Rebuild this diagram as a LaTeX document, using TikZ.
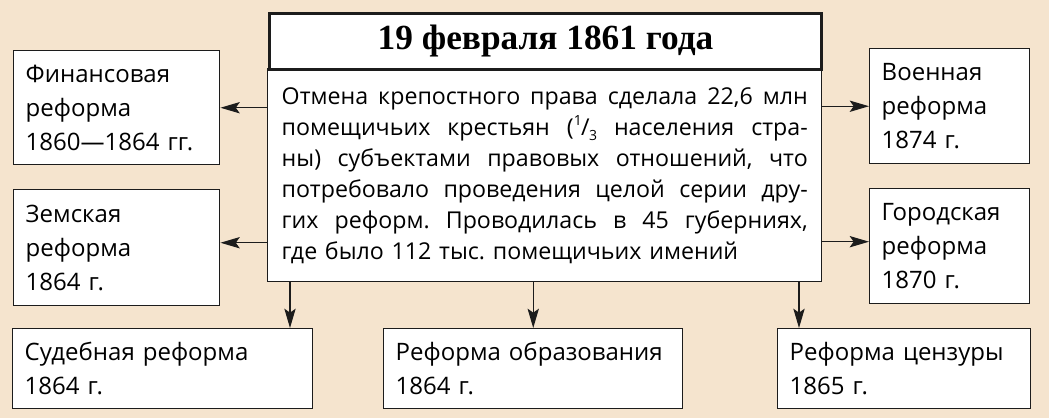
\documentclass[tikz,border=0pt]{standalone}
\usepackage{fontspec}
\setmainfont{Open Sans}
\newfontfamily\titlefont{Liberation Serif}
\usetikzlibrary{arrows.meta}
\definecolor{bg}{RGB}{245,228,206}
\definecolor{ink}{RGB}{28,28,28}
\newcommand{\jl}[1]{\makebox[394.5pt][s]{\spaceskip=0.26em plus 2em\relax #1}}
\begin{document}
\begin{tikzpicture}[x=0.75pt,y=-0.75pt,
  box/.style={draw=ink, line width=1.1pt, fill=white, anchor=north west, align=left,
    inner xsep=9pt, inner ysep=0pt, font=\fontsize{18}{25.5}\selectfont},
  arr/.style={draw=ink, line width=0.9pt, -{Stealth[length=14.5pt,width=8.5pt,inset=3pt]}}]
\fill[bg] (0,0) rectangle (1049,418);
\useasboundingbox (0,0) rectangle (1049,418);

\node[box, minimum width=415.5pt, minimum height=159.75pt, text width=394.5pt,
  inner xsep=10pt, font=\fontsize{17.4}{23.25}\selectfont\frenchspacing] (body) at (267,68)
  {\jl{Отмена крепостного права сделала 22,6 млн}\\
   \jl{помещичьих крестьян (\raisebox{0.75ex}{\fontsize{10.5}{10}\selectfont 1}\kern-0.5pt/\kern-0.5pt\raisebox{-0.45ex}{\fontsize{10.5}{10}\selectfont 3} населения стра-}\\
   \jl{ны) субъектами правовых отношений, что}\\
   \jl{потребовало проведения целой серии дру-}\\
   \jl{гих реформ. Проводилась в 45 губерниях,}\\
   где было 112 тыс. помещичьих имений};

\node[draw=ink, line width=2.2pt, fill=white, anchor=north west, minimum width=414pt,
  minimum height=42pt, inner sep=0pt,
  font=\titlefont\bfseries\fontsize{26.5}{30}\selectfont] (title) at (268,12) {19 февраля 1861 года};

\node[box, minimum width=154.5pt, minimum height=85.5pt, text width=136.5pt] (fin) at (13,50)
  {Финансовая\\реформа\\1860—1864 гг.};
\node[box, minimum width=154.5pt, minimum height=87pt, text width=136.5pt] (zem) at (13,189)
  {Земская\\реформа\\1864 г.};
\node[box, minimum width=120pt, minimum height=86.25pt, text width=102pt] (voen) at (869,48)
  {Военная\\реформа\\1874 г.};
\node[box, minimum width=120pt, minimum height=86.25pt, text width=102pt] (gor) at (869,188)
  {Городская\\реформа\\1870 г.};
\node[box, minimum width=225pt, minimum height=60pt, text width=207pt] (sud) at (12,328)
  {Судебная реформа\\1864 г.};
\node[box, minimum width=224.25pt, minimum height=60pt, text width=206.25pt] (obr) at (383,328)
  {Реформа образования\\1864 г.};
\node[box, minimum width=189.75pt, minimum height=60pt, text width=171.75pt] (cenz) at (777,328)
  {Реформа цензуры\\1865 г.};

\draw[arr] (body.west |- fin.east) -- (fin.east);
\draw[arr, transform canvas={yshift=3.75pt}] (body.west |- zem.east) -- (zem.east);
\draw[arr] (body.east |- voen.west) -- (voen.west);
\draw[arr, transform canvas={yshift=3.4pt}] (body.east |- gor.west) -- (gor.west);

\coordinate (d1) at (290,281);
\coordinate (d3) at (799,281);
\draw[arr] (d1 |- body.south) -- (d1 |- sud.north);
\draw[arr] (obr.north |- body.south) -- (obr.north);
\draw[arr] (d3 |- body.south) -- (d3 |- cenz.north);
\end{tikzpicture}
\end{document}
